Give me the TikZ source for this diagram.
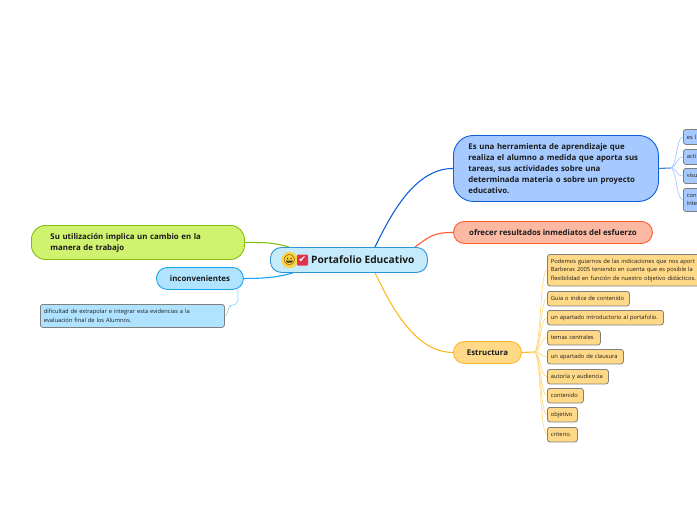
\documentclass[tikz,border=0pt]{standalone}
\usepackage{fontspec}
\setmainfont{Open Sans}
\newfontfamily\emojifont{Noto Emoji}
\newfontfamily\checkfont{DejaVu Sans}
\usetikzlibrary{backgrounds}
\definecolor{ink}{HTML}{1A1A1A}
\definecolor{rootfill}{HTML}{C4EAFC}\definecolor{rootline}{HTML}{2F93D6}
\definecolor{bluefill}{HTML}{A6CAFF}\definecolor{blueline}{HTML}{0F5FD7}
\definecolor{orangefill}{HTML}{FBB9A4}\definecolor{orangeline}{HTML}{FF5A29}
\definecolor{yelfill}{HTML}{FFD987}\definecolor{yelline}{HTML}{FFB81F}
\definecolor{greenfill}{HTML}{CFF26F}\definecolor{greenline}{HTML}{86BD12}
\definecolor{cyanfill}{HTML}{B0E3FF}\definecolor{cyanline}{HTML}{17A2ED}
\definecolor{subline}{HTML}{7F7F7F}
\definecolor{facefill}{HTML}{FFD23F}
\definecolor{tickfill}{HTML}{E2334A}
\tikzset{
  box/.style={anchor=north west,rectangle,inner ysep=0pt,text=ink,font=\fontsize{7.85}{11}\selectfont\bfseries,line width=.9pt},
  topic/.style={box,rounded corners=#1},
  topic/.default=11pt,
  subbox/.style={anchor=north west,rectangle,rounded corners=2.5pt,draw=subline,line width=.8pt,inner xsep=3.5pt,inner ysep=0pt,text=ink,font=\fontsize{5.75}{8.6}\selectfont,align=left},
  link/.style={line width=1.1pt},
  sublink/.style={line width=.7pt},
}
\begin{document}
\begin{tikzpicture}[x=1pt,y=-1pt]
\useasboundingbox (0,0) rectangle (697,520);
\clip (0,0) rectangle (697,520);
% main topics
\node[topic,draw=rootline,fill=rootfill,minimum width=157pt,minimum height=25pt,inner xsep=0pt] (root) at (270,247) {};
\node[anchor=west,inner sep=0pt,text=ink,font=\fontsize{10.2}{12}\selectfont\bfseries] (title) at (311,260) {Portafolio Educativo};
\node[circle,fill=facefill,inner sep=0pt,minimum size=9.5pt] (smile) at (289.5,260) {\emojifont\fontsize{10}{10}\selectfont\symbol{"1F600}};
\node[rectangle,rounded corners=1pt,fill=tickfill,text=white,inner sep=0pt,minimum size=11pt] (tick) at (302.5,260) {\checkfont\fontsize{9}{9}\selectfont\symbol{"2714}};

\node[topic=20pt,draw=blueline,fill=bluefill,minimum width=205pt,minimum height=66pt,inner xsep=15pt,text width=175pt,align=left] (herr) at (453,135)
 {Es una herramienta de aprendizaje que\\realiza el alumno a medida que aporta sus\\tareas, sus actividades sobre una\\determinada materia o sobre un proyecto\\educativo.};
\node[topic,draw=orangeline,fill=orangefill,minimum width=199pt,minimum height=22pt,inner xsep=0pt,align=center] (ofre) at (453,221) {ofrecer resultados inmediatos del esfuerzo};
\node[topic,draw=yelline,fill=yelfill,minimum width=68pt,minimum height=22pt,inner xsep=0pt,align=center] (estr) at (453,341) {Estructura};
\node[topic=14pt,draw=greenline,fill=greenfill,minimum width=213pt,minimum height=34pt,inner xsep=19pt,text width=175pt,align=left] (util) at (31,225)
 {Su utilización implica un cambio en la\\manera de trabajo};
\node[topic,draw=cyanline,fill=cyanfill,minimum width=87pt,minimum height=22pt,inner xsep=0pt,align=center] (inco) at (156,267) {inconvenientes};
\node[subbox,fill=cyanfill,minimum height=23pt,text width=177pt] (difi) at (40,304)
 {dificultad de extrapolar e integrar esta evidencias a la\\evaluación final de los Alumnos.};
% blue children
\node[subbox,fill=bluefill,minimum height=15pt,text width=33pt] (b1) at (683,129) {es l};
\node[subbox,fill=bluefill,minimum height=15pt,text width=33pt] (b2) at (683,149) {acti};
\node[subbox,fill=bluefill,minimum height=15pt,text width=33pt] (b3) at (683,168) {visu};
\node[subbox,fill=bluefill,minimum height=23pt,text width=33pt] (b4) at (683,188) {con\\inte};
% yellow children
\node[subbox,fill=yelfill,minimum height=31.5pt,text width=173pt] (y1) at (547,254)
 {Podemos guiarnos de las indicaciones que nos aport\\Barberas 2005 teniendo en cuenta que es posible la\\flexibilidad en función de nuestro objetivo didácticos.};
\node[subbox,fill=yelfill,minimum height=14.5pt,text width=75pt] (y2) at (547,291) {Guia o indice de contenido};
\node[subbox,fill=yelfill,minimum height=14.5pt,text width=109pt] (y3) at (547,310) {un apartado introductorio al portafolio.};
\node[subbox,fill=yelfill,minimum height=14.5pt,text width=46pt] (y4) at (547,330) {temas centrales};
\node[subbox,fill=yelfill,minimum height=14.5pt,text width=69pt] (y5) at (547,349) {un apartado de clausura};
\node[subbox,fill=yelfill,minimum height=14.5pt,text width=54pt] (y6) at (547,369) {autoría y audiencia};
\node[subbox,fill=yelfill,minimum height=14.5pt,text width=29pt] (y7) at (547,388) {contenido};
\node[subbox,fill=yelfill,minimum height=14.5pt,text width=23pt] (y8) at (547,407) {objetivo};
\node[subbox,fill=yelfill,minimum height=14.5pt,text width=23pt] (y9) at (547,427) {criterio.};
\coordinate (bfork) at (670,168);
\coordinate (yfork) at (534,352);
\begin{scope}[on background layer]
\draw[link,blueline] ([xshift=26pt]root.north) .. controls +(14,-28) and +(-40,0) .. (herr.west);
\draw[link,orangeline] ([xshift=66pt]root.north) .. controls +(14,-10) and +(-20,0) .. (ofre.west);
\draw[link,yelline] ([xshift=26pt]root.south) .. controls +(14,28) and +(-40,0) .. (estr.west);
\draw[link,greenline] ([xshift=-60pt]root.north) .. controls +(-18,-5) and +(18,0) .. (util.east);
\draw[link,cyanline] ([xshift=-56pt]root.south) .. controls +(-18,5) and +(18,0) .. (inco.east);
\draw[sublink,cyanfill!80!cyanline] ([xshift=38pt]inco.south) -- ++(0,11) .. controls +(0,5) and +(-6,0) .. ++(-7,5) .. controls +(-3,0) and +(3,0) .. (difi.east);
\draw[link,blueline!80] (herr.east) -- (bfork);
\foreach \t in {b1,b2,b3,b4}{
  \draw[sublink,bluefill] (bfork) .. controls +(7,0) and +(-7,0) .. (\t.west);
}
\draw[link,yelline] (estr.east) -- (yfork);
\foreach \t in {y1,y2,y3,y4,y5,y6,y7,y8,y9}{
  \draw[sublink,yelfill] (yfork) .. controls +(7,0) and +(-7,0) .. (\t.west);
}
\end{scope}
\end{tikzpicture}
\end{document}
